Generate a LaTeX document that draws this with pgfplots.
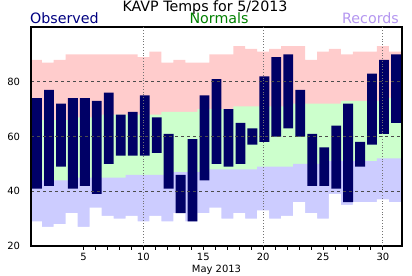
\documentclass[border=0pt]{standalone}
\usepackage{pgfplots}
\pgfplotsset{compat=1.18}
\usepackage{pgfplotstable}
\usepackage{fontspec}
\setmainfont{DejaVu Sans}
\definecolor{recpink}{RGB}{255,204,204}
\definecolor{normgreen}{RGB}{204,255,204}
\definecolor{lowblue}{RGB}{204,204,255}
\definecolor{obsnavy}{RGB}{0,0,102}
\definecolor{obstext}{RGB}{0,0,128}
\definecolor{normtext}{RGB}{0,128,0}
\definecolor{rectext}{RGB}{180,150,240}

\pgfplotstableread{
x rh nh nl rl
0.5 88 66 44 29
1.5 87 66 44 27
2.5 88 66 44 28
3.5 90 66 44 32
4.5 90 67 45 27
5.5 90 67 45 34
6.5 90 68 45 31
7.5 90 68 45 30
8.5 90 68 46 31
9.5 89 68 46 29
10.5 91 68 46 31
11.5 87 69 46 29
12.5 88 69 47 32
13.5 87 69 47 29
14.5 87 70 47 32
15.5 90 70 48 34
16.5 90 70 48 30
17.5 93 71 48 32
18.5 92 71 48 30
19.5 91 71 49 33
20.5 92 71 49 30
21.5 93 71 49 31
22.5 93 72 50 36
23.5 88 72 50 32
24.5 91 72 50 30
25.5 92 72 51 39
26.5 90 73 51 35
27.5 91 73 51 36
28.5 91 73 51 36
29.5 93 73 52 37
30.5 91 74 52 36
31.6 91 74 52 36
}\fills

\pgfplotstableread{
day hi lo
1 74 41
2 77 42
3 72 49
4 74 41
5 74 42
6 73 39
7 76 50
8 68 53
9 69 53
10 75 53
11 67 54
12 61 41
13 46 32
14 59 29
15 75 44
16 81 50
17 70 49
18 65 50
19 63 57
20 82 58
21 89 60
22 90 63
23 77 60
24 61 42
25 56 42
26 64 41
27 72 36
28 58 49
29 83 57
30 88 61
31 90 65
}\obs

\begin{document}
\begin{tikzpicture}
\path[use as bounding box] (0,0) rectangle (412bp,276bp);
\pgfplotsset{base/.style={width=371bp,height=219bp,scale only axis,
  xmin=0.6,xmax=31.6,ymin=20,ymax=100,at={(31bp,30bp)},anchor=south west}}
\begin{axis}[base, hide axis]
\addplot[fill=recpink, draw=none, const plot] table[x=x,y=rh]{\fills} \closedcycle;
\addplot[fill=normgreen, draw=none, const plot] table[x=x,y=nh]{\fills} \closedcycle;
\addplot[fill=lowblue, draw=none, const plot] table[x=x,y=nl]{\fills} \closedcycle;
\addplot[fill=white, draw=none, const plot] table[x=x,y=rl]{\fills} \closedcycle;
\end{axis}
\begin{axis}[base, ybar stacked, bar width=0.82, bar shift=1.2bp, axis on top,
  axis line style={line width=1.3bp},
  /pgf/number format/assume math mode=true,
  tick label style={font=\fontsize{10}{12}\selectfont},
  xtick={5,10,...,30}, minor x tick num=4,
  ytick={20,40,60,80},
  xtick pos=bottom, ytick pos=left,
  tick align=outside,
  major tick length=3.5bp, minor tick length=3.5bp,
  ytick style={draw=none},
  xtick style={black, line width=0.8bp},
  ymajorgrids,
  major grid style={dash pattern=on 3bp off 3bp, color=black!70, line width=0.8bp},
  extra x ticks={10,20,30}, extra x tick labels={},
  extra x tick style={grid=major, major grid style={dotted, color=black!55, line width=0.9bp}},
  xlabel={May 2013},
  xlabel style={font=\fontsize{10}{12}\selectfont, yshift=9bp},
  yticklabel style={xshift=-4bp},
]
\addplot[draw=none, fill=none] table[x=day,y=lo]{\obs};
\addplot[draw=none, fill=obsnavy] table[x=day, y expr=\thisrow{hi}-\thisrow{lo}]{\obs};
\end{axis}
\node[anchor=base, inner sep=0, font=\fontsize{14.3}{16}\selectfont] at (205bp,264.2bp) {KAVP Temps for 5/2013};
\node[anchor=base west, inner sep=0, text=obstext, font=\fontsize{14.3}{16}\selectfont] at (30bp,252.5bp) {Observed};
\node[anchor=base, inner sep=0, text=normtext, font=\fontsize{14.3}{16}\selectfont] at (219bp,252.5bp) {Normals};
\node[anchor=base east, inner sep=0, text=rectext, font=\fontsize{14.3}{16}\selectfont] at (399bp,252.5bp) {Records};
\end{tikzpicture}
\end{document}
